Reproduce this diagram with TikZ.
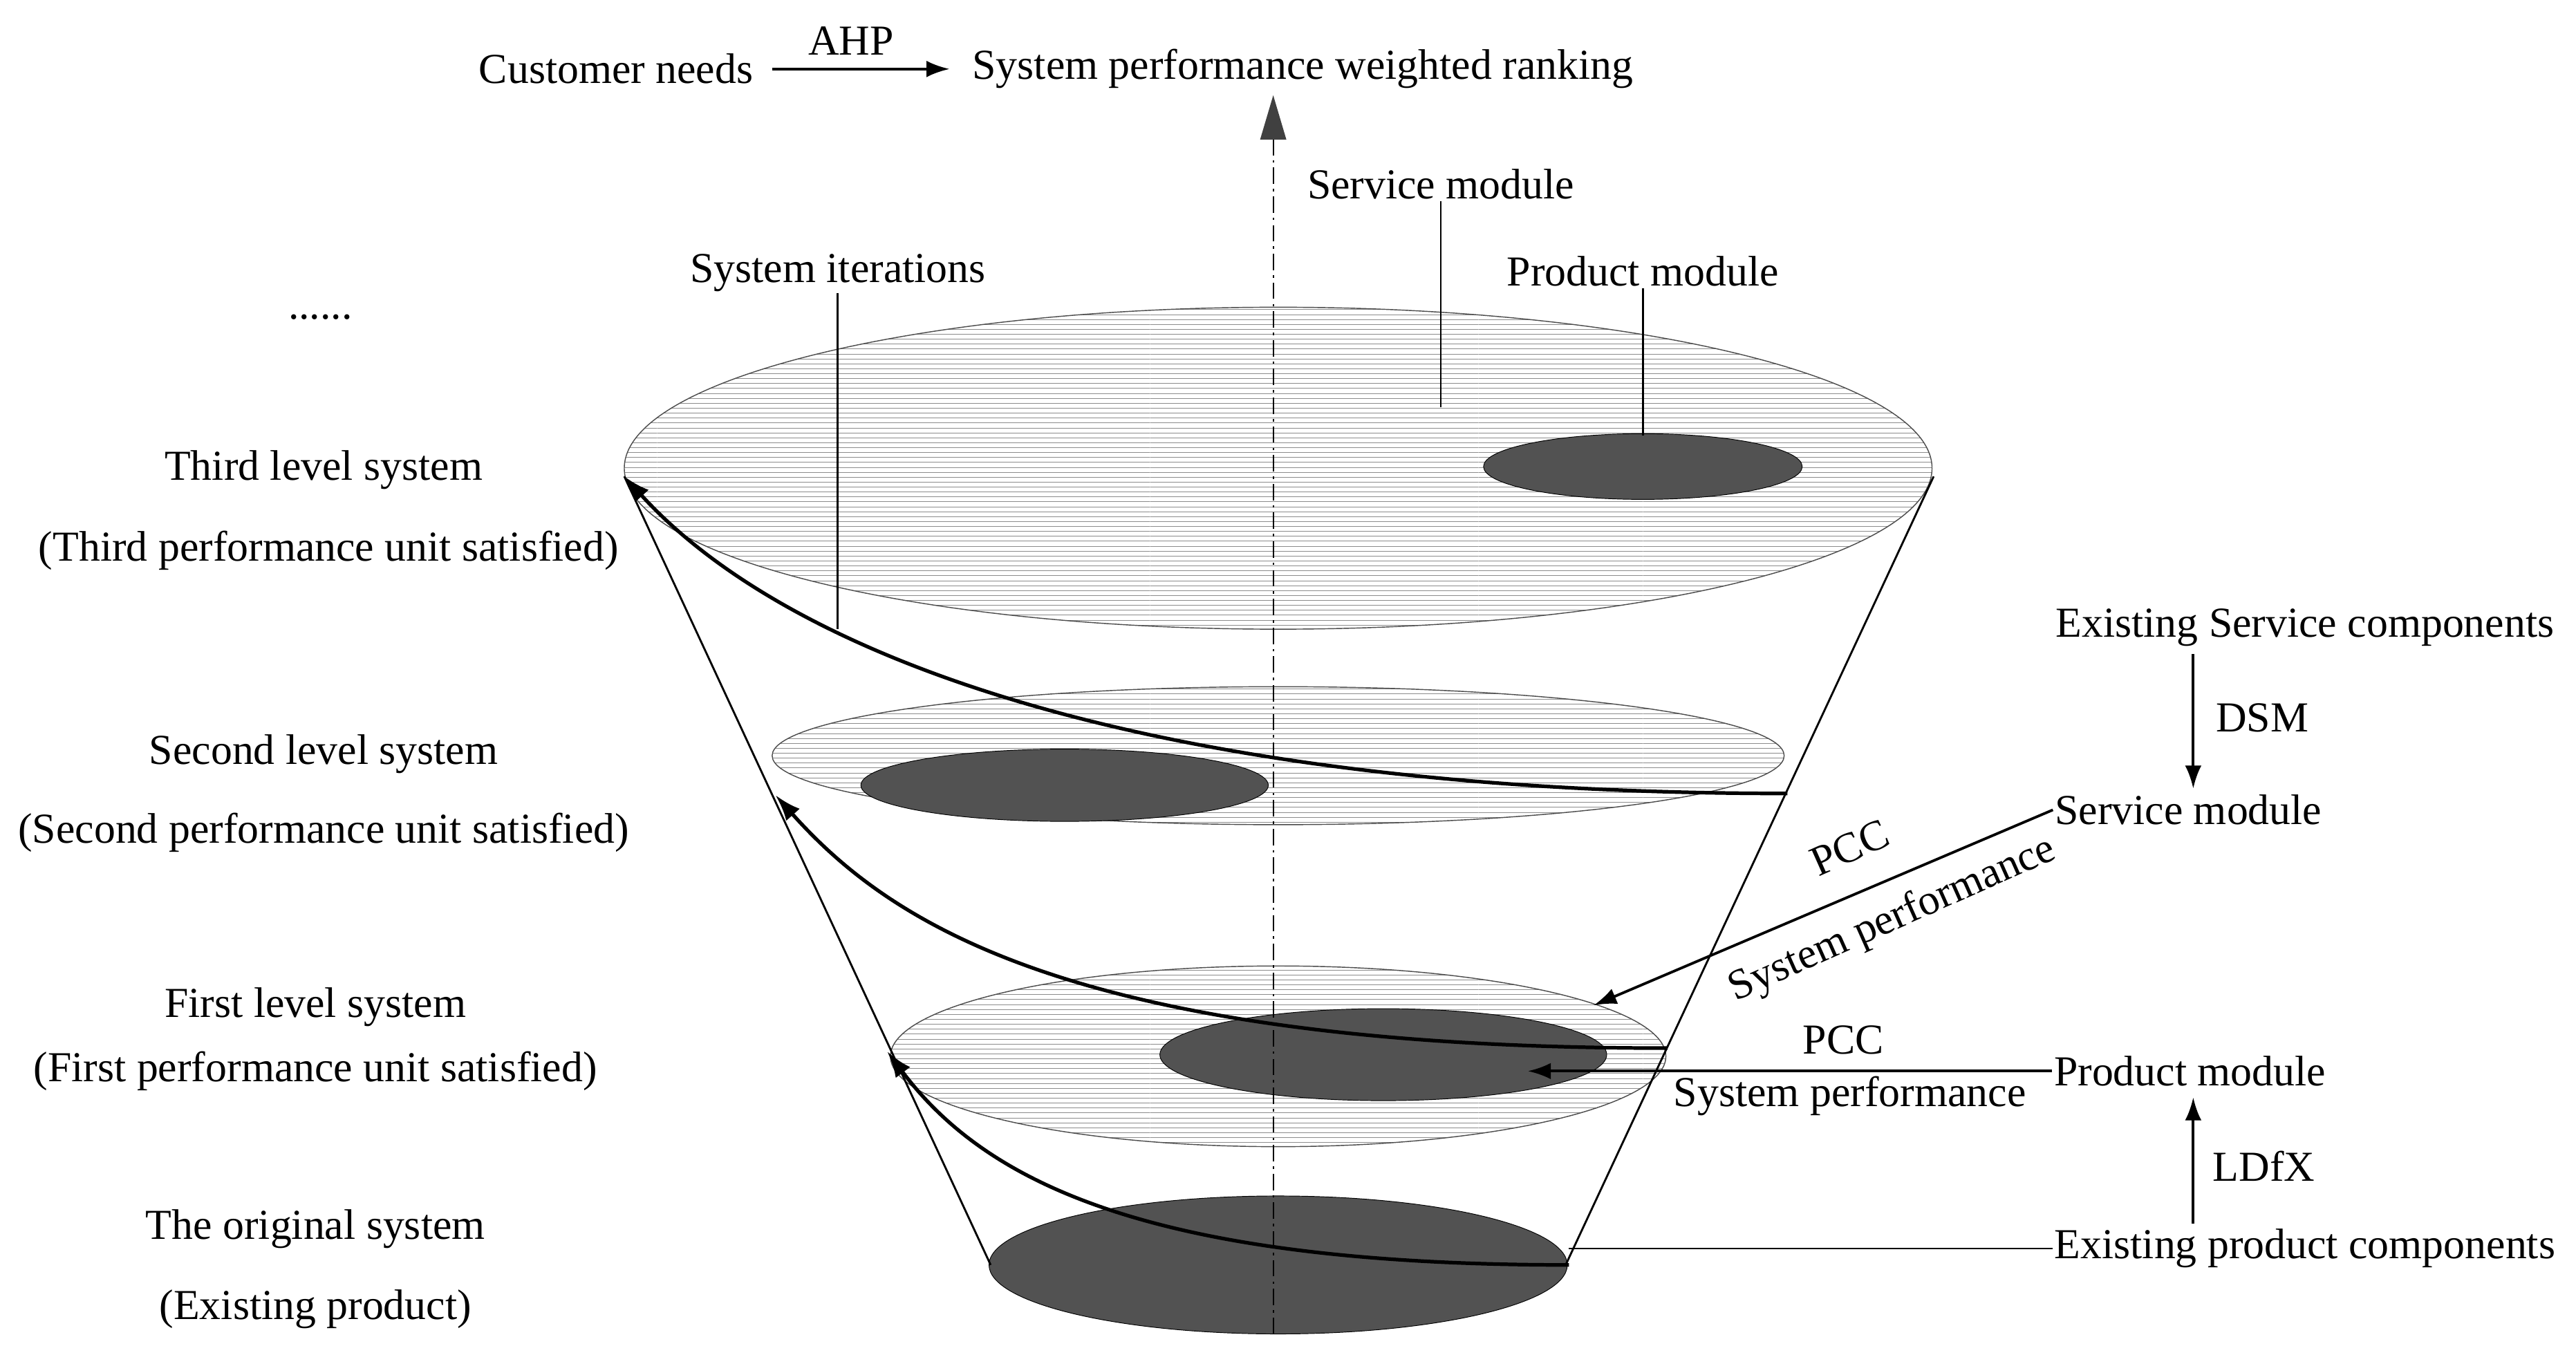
\documentclass[tikz,border=0pt]{standalone}
\usepackage{fontspec}
\setmainfont{Liberation Serif}
\usetikzlibrary{patterns,arrows.meta}
\begin{document}
\begin{tikzpicture}[x=1pt,y=-1pt,font=\fontsize{26}{30}\selectfont,
  lbl/.style={inner sep=1pt},
  arr/.style={-{Latex[length=14pt,width=10pt]},line width=1.6pt},
  hatch/.style={draw=black!70,line width=0.6pt,pattern=horizontal lines,pattern color=black!45},
  dark/.style={draw=black,fill=black!68},
  axis/.style={line width=0.9pt,dash pattern=on 10pt off 3pt on 1.5pt off 3pt},
  iter/.style={-{Latex[length=16pt,width=11pt]},line width=2.2pt}]
\useasboundingbox (0,0) rectangle (1568,819);
% title
\node[lbl] (cn) at (375,42) {Customer needs};
\node[lbl] (sp) at (793,42) {System performance weighted ranking};
\coordinate (a1) at (470,42);
\coordinate (a2) at (578,42);
\draw[arr] (a1) -- (a2);
\node[lbl] (ahp) at (518,25) {AHP};
% ellipses
\draw[hatch] (778,285) ellipse (398 and 98);
\draw[dark] (1000,284) ellipse (97 and 20);
\draw[hatch] (778,460) ellipse (308 and 42);
\draw[dark] (648,478) ellipse (124 and 22);
\draw[hatch] (778,643) ellipse (236 and 55);
\draw[dark] (842,642) ellipse (136 and 28);
\draw[dark] (778,770) ellipse (176 and 42);
% axis
\coordinate (axb) at (775,812);
\draw[axis] (axb) -- (775,85);
\fill[black!75] (775,58) -- (767,85) -- (783,85) -- cycle;
% cone
\draw[line width=1.2pt] (380,290) -- (603,770);
\draw[line width=1.2pt] (1177,290) -- (953,770);
% left labels
\node[lbl] at (195,193) {......};
\node[lbl] at (197,286) {Third level system};
\node[lbl] at (200,335) {(Third performance unit satisfied)};
\node[lbl] at (197,459) {Second level system};
\node[lbl] at (197,507) {(Second performance unit satisfied)};
\node[lbl] at (192,613) {First level system};
\node[lbl] at (192,652) {(First performance unit satisfied)};
\node[lbl] at (192,748) {The original system};
\node[lbl] at (192,797) {(Existing product)};
% callouts
\node[lbl] (si) at (510,166) {System iterations};
\draw[line width=1.2pt] (si.south) -- (510,383);
\node[lbl] (sm) at (877,112) {Service module};
\draw[line width=1.2pt] (sm.south) -- (877,248);
\node[lbl] (pm) at (1000,165) {Product module};
\draw[line width=1.2pt] (pm.south) -- (1000,265);
% right side
\node[lbl] (esc) at (1403,382) {Existing Service components};
\node[lbl] (rsm) at (1332,493) {Service module};
\node[lbl] (rpm) at (1333,652) {Product module};
\node[lbl] (epc) at (1403,760) {Existing product components};
\draw[arr] (1335,398) -- (1335,480);
\node[lbl] at (1377,437) {DSM};
\draw[arr] (1335,745) -- (1335,668);
\node[lbl] at (1378,710) {LDfX};
\draw[line width=1.2pt] (epc.west) -- (955,760);
\draw[arr] (rsm.west) -- (970,612);
\node[lbl,rotate=24] at (1126,516) {PCC};
\node[lbl,rotate=24] at (1152,560) {System performance};
\draw[arr] (rpm.west) -- (930,652);
\node[lbl] at (1122,633) {PCC};
\node[lbl] at (1126,667) {System performance};
% iteration curves
\draw[iter] (1088,483) .. controls (700,483) and (480,400) .. (380,290);
\draw[iter] (1015,638) .. controls (650,638) and (540,560) .. (472,484);
\draw[iter] (955,770) .. controls (700,770) and (600,720) .. (540,640);
\end{tikzpicture}
\end{document}
